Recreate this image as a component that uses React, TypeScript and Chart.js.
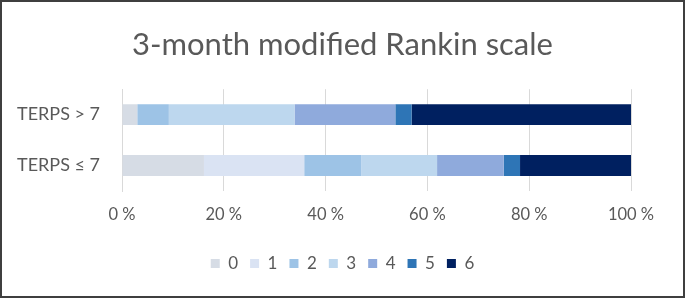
import React, { useEffect, useRef } from "react";
import { Chart, registerables } from "chart.js";

Chart.register(...registerables);

const categories = ["TERPS > 7", "TERPS ≤ 7"];
const mrsLabels = ["0", "1", "2", "3", "4", "5", "6"];
const mrs0 = [3.0, 16.1];
const mrs1 = [0.0, 19.7];
const mrs2 = [6.2, 11.2];
const mrs3 = [24.7, 14.9];
const mrs4 = [19.8, 13.1];
const mrs5 = [3.2, 3.2];
const mrs6 = [43.1, 21.8];
const seriesValues = [mrs0, mrs1, mrs2, mrs3, mrs4, mrs5, mrs6];
const seriesColors = ["#D6DCE5", "#DAE3F3", "#9DC3E6", "#BDD7EE", "#8FAADC", "#2E75B6", "#002060"];
const xTicks = [0, 20, 40, 60, 80, 100];

const FONT = "Lato, 'Open Sans', sans-serif";
const GRAY = "#595959";

export default function App() {
  const ref = useRef<HTMLCanvasElement | null>(null);
  useEffect(() => {
    document.body.style.margin = "0";
    if (!ref.current) return;
    const chart = new Chart(ref.current, {
      type: "bar",
      data: {
        labels: categories,
        datasets: mrsLabels.map((l, i) => ({
          label: l,
          data: seriesValues[i],
          backgroundColor: seriesColors[i],
          borderWidth: 0,
          barPercentage: 0.41,
          categoryPercentage: 1,
        })),
      },
      options: {
        indexAxis: "y",
        animation: false,
        responsive: false,
        devicePixelRatio: 1,
        layout: { padding: { left: 0, right: 0, top: 0, bottom: 14 } },
        plugins: {
          title: {
            display: true,
            text: "3-month modified Rankin scale",
            color: GRAY,
            font: { family: FONT, size: 31, weight: "normal" },
            padding: { top: 24, bottom: 26 },
          },
          legend: {
            position: "bottom",
            labels: {
              boxWidth: 9,
              boxHeight: 9,
              padding: 12,
              color: GRAY,
              font: { family: FONT, size: 17 },
            },
          },
          tooltip: { enabled: false },
        },
        scales: {
          x: {
            stacked: true,
            min: 0,
            max: 100,
            afterBuildTicks: (axis: any) => {
              axis.ticks = xTicks.map((v) => ({ value: v }));
            },
            afterFit: (axis: any) => {
              axis.height = 52;
            },
            border: { display: false },
            grid: { color: "#D9D9D9", drawTicks: false, lineWidth: 1 },
            ticks: {
              padding: 14,
              color: GRAY,
              font: { family: FONT, size: 16.5 },
              callback: (v: any) => `${v} %`,
            },
          },
          y: {
            stacked: true,
            afterFit: (axis: any) => {
              axis.width = 120;
            },
            border: { display: true, color: "#D9D9D9" },
            grid: { display: false, drawTicks: false },
            ticks: {
              padding: 22,
              color: GRAY,
              font: { family: FONT, size: 18 },
            },
          },
          spacer: {
            type: "linear",
            position: "right",
            display: true,
            afterFit: (axis: any) => {
              axis.width = 52;
            },
            border: { display: false },
            grid: { display: false, drawTicks: false },
            ticks: { display: false },
          },
        },
      },
    });
    return () => chart.destroy();
  }, []);
  return (
    <div
      style={{
        width: 685,
        height: 298,
        boxSizing: "border-box",
        border: "2px solid #3F3F3F",
        background: "#fff",
      }}
    >
      <canvas ref={ref} width={681} height={294} style={{ display: "block" }} />
    </div>
  );
}
